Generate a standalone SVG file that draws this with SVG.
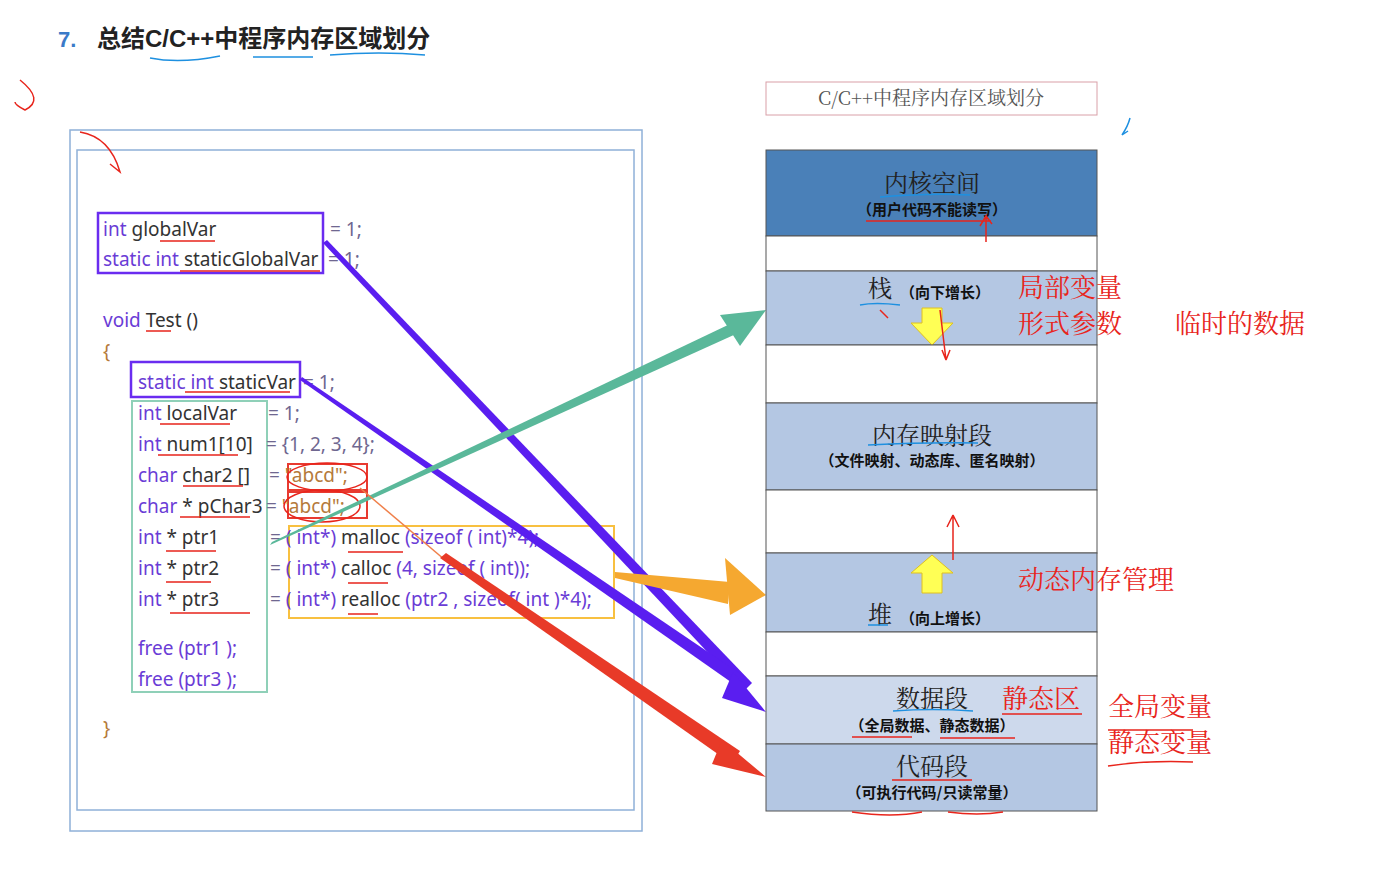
<svg xmlns="http://www.w3.org/2000/svg" width="1382" height="870" viewBox="0 0 1382 870">
<style>
.c{font-family:"Segoe UI","Noto Sans","Open Sans",sans-serif;font-size:19px;fill:#333}
.k{fill:#6a3cd6}
.g{fill:#6f6790}
.s{fill:#b57a3a}
.seg{stroke:#555;stroke-width:1}
.h{font-family:"Noto Serif CJK SC","Noto Sans CJK SC",serif;font-size:24px;fill:#222;text-anchor:middle}
.sub{font-family:"Noto Sans CJK SC",sans-serif;font-size:15px;font-weight:bold;fill:#111;text-anchor:middle}
.r{font-family:"Noto Serif CJK SC","Noto Sans CJK SC",serif;font-size:26px;fill:#e8251c}
.ru{fill:none;stroke:#e8251c;stroke-width:1.5}
.bu{fill:none;stroke:#1e90e0;stroke-width:1.5}
</style>
<rect width="1382" height="870" fill="#fff"/>
<g id="title">
<text x="58" y="47" font-family="Liberation Sans,sans-serif" font-size="22" font-weight="bold" fill="#3a7ac8">7.</text>
<text x="97" y="47" font-family="Liberation Sans,'Noto Sans CJK SC',sans-serif" font-size="24" font-weight="bold" fill="#222">总结C/C++中程序内存区域划分</text>
<path class="bu" d="M150 58 q30 6 70 -2 M253 57 h60 M330 55 q50 -4 95 0"/>
</g>
<g id="code-panel">
<rect x="70" y="130" width="572" height="701" fill="none" stroke="#8fb0d8" stroke-width="1.5"/>
<rect x="77" y="150" width="557" height="660" fill="none" stroke="#8fb0d8" stroke-width="1.5"/>
<rect x="98" y="213" width="225" height="60" fill="none" stroke="#6a2cf0" stroke-width="2.5"/>
<rect x="131" y="362" width="169" height="35" fill="none" stroke="#6a2cf0" stroke-width="2.5"/>
<rect x="132" y="401" width="135" height="291" fill="none" stroke="#8fd0b8" stroke-width="2"/>
<rect x="288" y="464" width="79" height="26" fill="none" stroke="#e83a30" stroke-width="2"/>
<rect x="288" y="492" width="79" height="26" fill="none" stroke="#e83a30" stroke-width="2"/>
<rect x="289" y="526" width="325" height="92" fill="none" stroke="#f8c040" stroke-width="2"/>
<text class="c" x="103" y="236"><tspan class="k">int</tspan> globalVar</text>
<text class="c g" x="330" y="236">= 1;</text>
<text class="c" x="103" y="266"><tspan class="k">static int</tspan> staticGlobalVar</text>
<text class="c g" x="328" y="266">= 1;</text>
<text class="c" x="103" y="327"><tspan class="k">void</tspan> Test ()</text>
<text class="c s" x="103" y="358">{</text>
<text class="c" x="138" y="389"><tspan class="k">static int</tspan> staticVar</text>
<text class="c g" x="303" y="389">= 1;</text>
<text class="c" x="138" y="420"><tspan class="k">int</tspan> localVar</text>
<text class="c g" x="268" y="420">= 1;</text>
<text class="c" x="138" y="451"><tspan class="k">int</tspan> num1[10]</text>
<text class="c g" x="266" y="451">= {1, 2, 3, 4};</text>
<text class="c" x="138" y="482"><tspan class="k">char</tspan> char2 []</text>
<text class="c g" x="269" y="482">= <tspan class="s">"abcd";</tspan></text>
<text class="c" x="138" y="513"><tspan class="k">char</tspan> * pChar3</text>
<text class="c g" x="266" y="513">= <tspan class="s">"abcd";</tspan></text>
<text class="c" x="138" y="544"><tspan class="k">int</tspan> * ptr1</text>
<text class="c" x="138" y="575"><tspan class="k">int</tspan> * ptr2</text>
<text class="c" x="138" y="606"><tspan class="k">int</tspan> * ptr3</text>
<text class="c g" x="270" y="544">= <tspan class="k">( int*)</tspan> <tspan fill="#333">malloc</tspan> <tspan class="k">(sizeof ( int)*4);</tspan></text>
<text class="c g" x="270" y="575">= <tspan class="k">( int*)</tspan> <tspan fill="#333">calloc</tspan> <tspan class="k">(4, sizeof ( int));</tspan></text>
<text class="c g" x="270" y="606">= <tspan class="k">( int*)</tspan> <tspan fill="#333">realloc</tspan> <tspan class="k">(ptr2 , sizeof( int )*4);</tspan></text>
<text class="c k" x="138" y="655">free (ptr1 );</text>
<text class="c k" x="138" y="686">free (ptr3 );</text>
<text class="c s" x="103" y="735">}</text>
<path class="ru" d="M160 241 h55 M180 271 h140 M146 331 h25 M185 392 h105 M160 424 h70 M158 455 h80 M183 486 h60 M180 517 h70 M166 551 h50 M166 582 h45 M170 613 h80 M348 552 h55 M348 583 h40 M348 614 h30"/>
<ellipse class="ru" cx="327" cy="477" rx="40" ry="14"/>
<ellipse class="ru" cx="322" cy="506" rx="38" ry="16"/>
<path class="ru" d="M20 80 q25 20 5 30 q-10 -5 -10 -8 M80 132 q30 5 40 40 l-10 -8"/>
</g>
<g id="connectors">
<polygon points="323,243 327,240 752,683 744,691" fill="#5a1ef0"/>
<polygon points="300,380 302,377 745,677 738,687" fill="#5a1ef0"/>
<polygon points="733,672 766,712 722,698" fill="#5a1ef0"/>
<polygon points="270,545 272,542 730,324 736,334" fill="#5ab89a"/>
<polygon points="720,315 766,310 740,346" fill="#5ab89a"/>
<polygon points="615,572 730,582 728,604 615,578" fill="#f5a830"/>
<polygon points="725,558 766,595 730,615" fill="#f5a830"/>
<line x1="360" y1="488" x2="445" y2="560" stroke="#f0804a" stroke-width="1.5"/>
<polygon points="440,558 446,553 740,751 732,764" fill="#e83a28"/>
<polygon points="722,740 766,777 712,764" fill="#e83a28"/>
</g>
<g id="memory-title">
<rect x="766" y="82" width="331" height="33" fill="#fff" stroke="#d9a0a8"/>
<text x="931" y="105" text-anchor="middle" font-family="'Noto Serif CJK SC','Noto Sans CJK SC',serif" font-size="19" fill="#555">C/C++中程序内存区域划分</text>
</g>
<g id="kernel"><rect class="seg" x="766" y="150" width="331" height="86" fill="#4a80b8"/>
<text class="h" x="932" y="192">内核空间</text><text class="sub" x="932" y="215">（用户代码不能读写）</text></g>
<g id="gap1"><rect class="seg" x="766" y="236" width="331" height="35" fill="#fff"/></g>
<g id="stack"><rect class="seg" x="766" y="271" width="331" height="74" fill="#b4c7e3"/>
<text class="h" x="880" y="297">栈</text><text class="sub" x="945" y="298">（向下增长）</text>
<polygon points="922,308 942,308 942,323 953,323 932,345 911,323 922,323" fill="#ffff55" stroke="#e0c020"/></g>
<g id="gap2"><rect class="seg" x="766" y="345" width="331" height="58" fill="#fff"/></g>
<g id="mmap"><rect class="seg" x="766" y="403" width="331" height="87" fill="#b4c7e3"/>
<text class="h" x="932" y="444">内存映射段</text><text class="sub" x="932" y="466">（文件映射、动态库、匿名映射）</text></g>
<g id="gap3"><rect class="seg" x="766" y="490" width="331" height="63" fill="#fff"/></g>
<g id="heap"><rect class="seg" x="766" y="553" width="331" height="79" fill="#b4c7e3"/>
<polygon points="932,555 953,573 942,573 942,593 922,593 922,573 911,573" fill="#ffff55" stroke="#e0c020"/>
<text class="h" x="880" y="623">堆</text><text class="sub" x="945" y="624">（向上增长）</text></g>
<g id="gap4"><rect class="seg" x="766" y="632" width="331" height="44" fill="#fff"/></g>
<g id="data"><rect class="seg" x="766" y="676" width="331" height="68" fill="#cdd9ec"/>
<text class="h" x="932" y="707">数据段</text><text class="sub" x="932" y="731">（全局数据、静态数据）</text></g>
<g id="code"><rect class="seg" x="766" y="744" width="331" height="67" fill="#b4c7e3"/>
<text class="h" x="932" y="775">代码段</text><text class="sub" x="932" y="798">（可执行代码/只读常量）</text></g>
<g id="annotations">
<path class="bu" d="M880 197 q50 -4 90 -2 M860 305 q15 -3 40 0 M868 445 q60 -3 110 -2 M868 625 h20 M893 711 q40 -3 80 0 M1130 118 q-2 8 -8 17 l6 -4"/>
<path class="ru" d="M866 221 h125 M986 242 v-26 l-6 10 M986 216 l6 8 M940 310 l6 50 l-4 -10 M946 360 l4 -10 M953 560 v-45 l-6 12 M953 515 l6 12 M852 737 h60 M940 738 h75 M892 780 h80 M852 812 q40 6 70 0 M948 812 q30 4 55 0 M1108 730 h85 M1108 766 q40 -6 85 -4 M1002 714 h80 M880 310 l8 8"/>
<text class="r" x="1018" y="297">局部变量</text>
<text class="r" x="1018" y="333">形式参数</text>
<text class="r" x="1175" y="333">临时的数据</text>
<text class="r" x="1018" y="589">动态内存管理</text>
<text class="r" x="1002" y="708">静态区</text>
<text class="r" x="1108" y="716">全局变量</text>
<text class="r" x="1108" y="752">静态变量</text>
</g>
</svg>
